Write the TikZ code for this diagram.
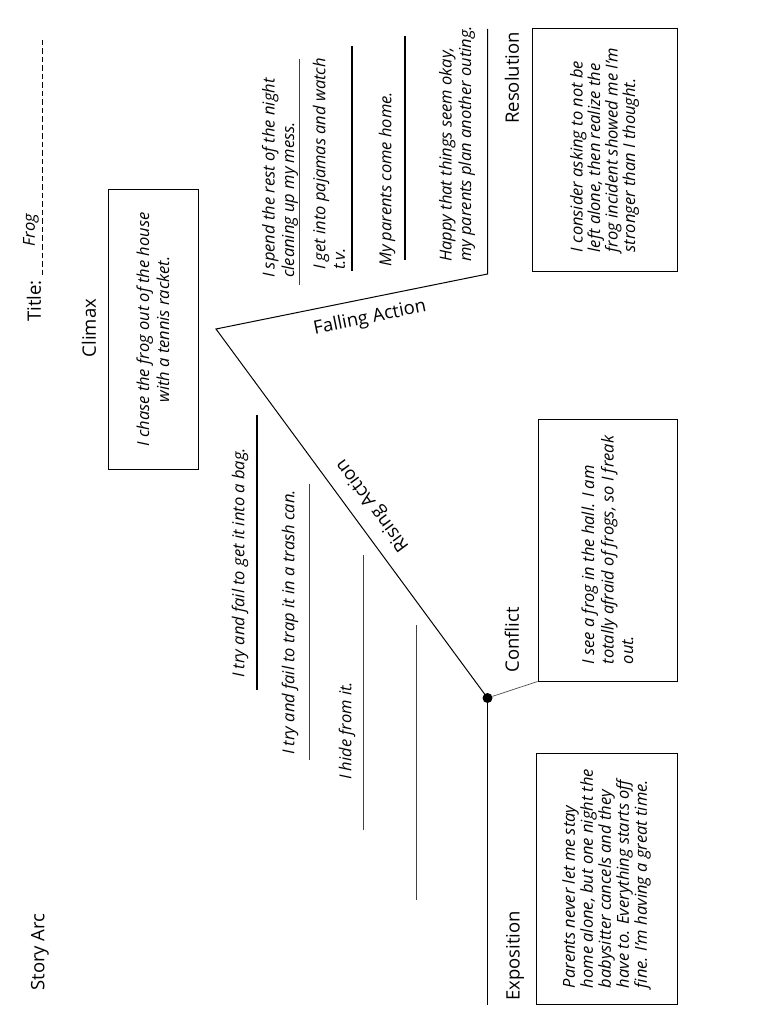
\documentclass[tikz,border=0pt]{standalone}
\usepackage{fontspec}
\setmainfont{Open Sans}
\begin{document}
\begin{tikzpicture}[x=1pt,y=-1pt,
  head/.style={font=\fontsize{18.5}{22}\selectfont, inner sep=0pt},
  hand/.style={font=\fontsize{16.5}{19.5}\selectfont\itshape, inner sep=0pt, rotate=90, align=left, anchor=west},
  storybox/.style={draw, line width=1pt, rotate=90, inner sep=0pt, font=\fontsize{16.5}{18}\selectfont\itshape, align=left},
  arcline/.style={line width=1pt},
  uthick/.style={line width=1.6pt},
  uthin/.style={line width=0.9pt, black!75},
]
\useasboundingbox (0,0) rectangle (768,1024);
\fill[white] (0,0) rectangle (768,1024);

% header
\node[head, rotate=90] (storyarc) at (40,952) {Story Arc};
\node[head, rotate=90] (title) at (34,301) {Title:};
\node[hand, anchor=center] (frog) at (31,230) {Frog};
\coordinate (dashA) at (42,40);
\coordinate (dashB) at (42,277);
\draw[dash pattern=on 5.5pt off 3pt, line width=0.8pt] (dashA) -- (dashB);

% climax
\node[head, rotate=90] (climaxlbl) at (89,328) {Climax};
\node[storybox, align=center, minimum width=279pt, minimum height=90pt, font=\fontsize{16.5}{20}\selectfont\itshape] (climax) at (153,329.5)
  {I chase the frog out of the house\\with a tennis racket.};

% arc
\coordinate (apex) at (216,329);
\coordinate (fallend) at (487.5,274);
\coordinate (falltop) at (487.5,29);
\node[circle, fill, inner sep=0pt, minimum size=10pt] (dot) at (487.5,698) {};
\coordinate (base) at (487.5,1005);
\draw[arcline] (dot.center) -- (apex) -- (fallend) -- (falltop);
\draw[arcline] (dot.center) -- (base);

\node[head, rotate=11.4] (fall) at (370,318) {Falling Action};
\node[head, rotate=126.4] (rise) at (373,505) {Rising Action};

% falling action events
\node[hand] (f1) at (280,278) {I spend the rest of the night\\cleaning up my mess.};
\node[hand] (f2) at (329,270) {I get into pajamas and watch\\t.v.};
\node[hand] (f3) at (387,267) {My parents come home.};
\node[hand] (f4) at (457,262) {Happy that things seem okay,\\my parents plan another outing.};
\coordinate (u1a) at (299,59);  \coordinate (u1b) at (299,285);
\coordinate (u2a) at (352,46);  \coordinate (u2b) at (352,271);
\coordinate (u3a) at (405,36);  \coordinate (u3b) at (405,260);
\draw[uthin] (u1a) -- (u1b);
\draw[uthick] (u2a) -- (u2b);
\draw[uthick] (u3a) -- (u3b);

% rising action events
\node[hand] (r1) at (240,678) {I try and fail to get it into a bag.};
\node[hand] (r2) at (290,755) {I try and fail to trap it in a trash can.};
\node[hand] (r3) at (347,780) {I hide from it.};
\coordinate (v1a) at (257,415); \coordinate (v1b) at (257,690);
\coordinate (v2a) at (309,484); \coordinate (v2b) at (309,760);
\coordinate (v3a) at (363,555); \coordinate (v3b) at (363,830);
\coordinate (v4a) at (416,625); \coordinate (v4b) at (416,900);
\draw[uthick] (v1a) -- (v1b);
\draw[uthin] (v2a) -- (v2b);
\draw[uthin] (v3a) -- (v3b);
\draw[uthin] (v4a) -- (v4b);

% resolution
\node[head, rotate=90] (reslbl) at (512,78) {Resolution};
\node[storybox, minimum width=242pt, minimum height=145pt, font=\fontsize{16.5}{17.5}\selectfont\itshape] (res) at (604.5,150)
  {I consider asking to not be\\left alone, then realize the\\frog incident showed me I'm\\stronger than I thought.};

% conflict
\node[head, rotate=90] (conflbl) at (512,640) {Conflict};
\node[storybox, minimum width=262pt, minimum height=139pt, font=\fontsize{16.5}{19.5}\selectfont\itshape] (conf) at (607.5,550)
  {I see a frog in the hall. I am\\totally afraid of frogs, so I freak\\out.};
\draw[line width=0.7pt, black!70] (dot) -- (conf.north west);

% exposition
\node[head, rotate=90] (expolbl) at (515,956) {Exposition};
\node[storybox, minimum width=251pt, minimum height=141pt] (expo) at (606.5,878.5)
  {Parents never let me stay\\home alone, but one night the\\babysitter cancels and they\\have to. Everything starts off\\fine. I'm having a great time.};
\end{tikzpicture}
\end{document}
